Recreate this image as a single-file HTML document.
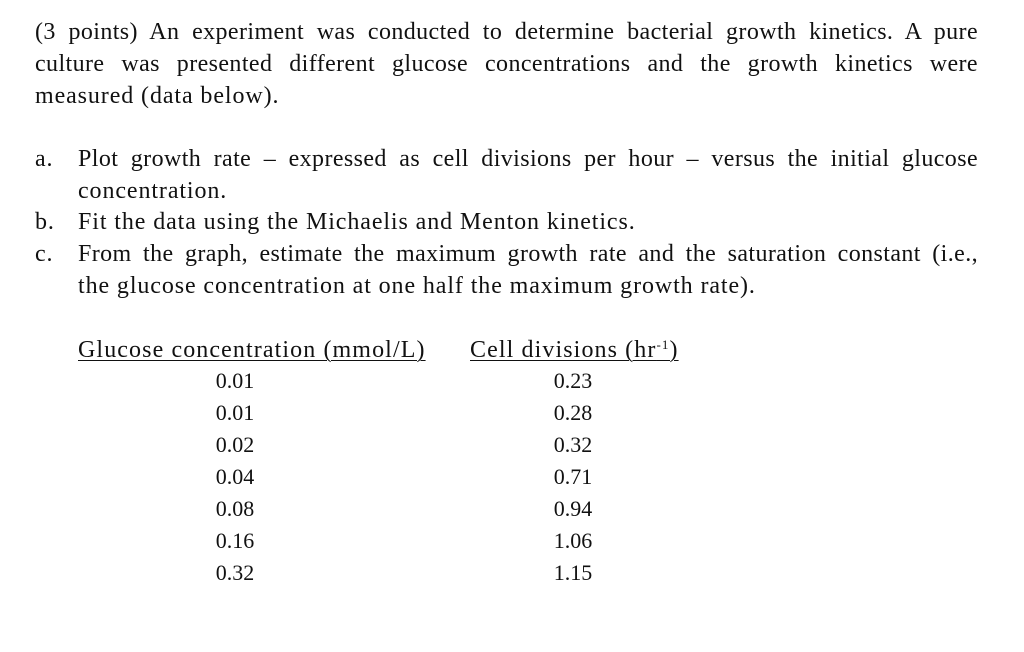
<!DOCTYPE html>
<html><head><meta charset="utf-8"><style>
body{margin:0;width:1024px;height:652px;background:#fff;overflow:hidden;font-family:"Liberation Serif",serif;color:#111;}
.l{position:absolute;font-size:24px;line-height:32px;white-space:nowrap;letter-spacing:0.9px;}
.j{text-align:justify;text-align-last:justify;white-space:normal;letter-spacing:0.4px;}
.h{letter-spacing:1.1px;}
.v{position:absolute;font-size:22px;line-height:32px;text-align:center;width:120px;}
u{text-decoration-thickness:1px;text-underline-offset:3px;}
sup{font-size:13px;line-height:0;vertical-align:8px;}
</style></head><body>
<div>
<div class="l j" style="left:35px;top:16px;width:943px;">(3 points) An experiment was conducted to determine bacterial growth kinetics. A pure</div>
<div class="l j" style="left:35px;top:48px;width:943px;">culture was presented different glucose concentrations and the growth kinetics were</div>
<div class="l" style="left:35px;top:80px;">measured (data below).</div>
</div>
<div>
<div class="l" style="left:35px;top:143px;">a.</div>
<div class="l j" style="left:78px;top:143px;width:900px;">Plot growth rate – expressed as cell divisions per hour – versus the initial glucose</div>
<div class="l" style="left:78px;top:175px;">concentration.</div>
<div class="l" style="left:35px;top:206px;">b.</div>
<div class="l" style="left:78px;top:206px;">Fit the data using the Michaelis and Menton kinetics.</div>
<div class="l" style="left:35px;top:238px;">c.</div>
<div class="l j" style="left:78px;top:238px;width:900px;">From the graph, estimate the maximum growth rate and the saturation constant (i.e.,</div>
<div class="l" style="left:78px;top:270px;">the glucose concentration at one half the maximum growth rate).</div>
</div>
<div>
<div class="l h" style="left:78px;top:334px;"><u>Glucose concentration (mmol/L)</u></div>
<div class="l h" style="left:470px;top:334px;"><u>Cell divisions (hr<sup>-1</sup>)</u></div>
<div id="rows"></div>
</div>
<script>
const glucose=["0.01","0.01","0.02","0.04","0.08","0.16","0.32"];
const divisions=["0.23","0.28","0.32","0.71","0.94","1.06","1.15"];
const rows=document.getElementById('rows');
glucose.forEach((g,i)=>{
  const a=document.createElement('div');a.className='v';a.textContent=g;
  a.style.left='175px';a.style.top=(365+i*32)+'px';
  
  
  rows.appendChild(a);
  const b=document.createElement('div');b.className='v';b.textContent=divisions[i];
  b.style.left='513px';b.style.top=(365+i*32)+'px';
  
  
  rows.appendChild(b);
});
</script>
</body></html>
